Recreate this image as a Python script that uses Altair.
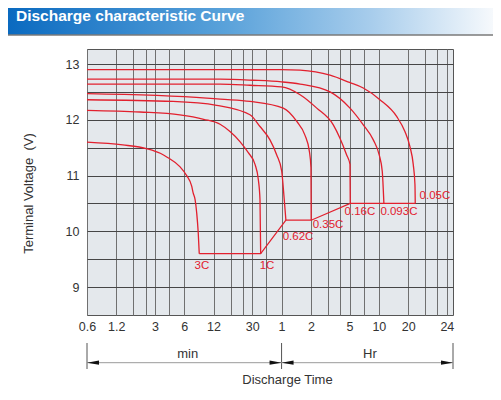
import altair as alt
import pandas as pd

RED = "#e2202e"
FONT = "Liberation Sans"
TEXT_GREY = "#333333"

# discharge time in minutes, terminal voltage in volts
T_3C = [0.6, 1.4, 2.5, 3.4, 4.0, 5.4, 6.35, 7.15, 7.4, 7.75, 8.05, 8.35, 8.55]
V_3C = [11.60, 11.55, 11.48, 11.40, 11.33, 11.16, 11.0, 10.81, 10.69, 10.57, 10.33, 9.97, 9.60]

T_1C = [0.6, 2.1, 5.4, 9.5, 14, 17.7, 22.4, 27.3, 32, 34.6, 36, 36.6]
V_1C = [12.17, 12.14, 12.09, 12.01, 11.92, 11.79, 11.61, 11.41, 11.20, 10.93, 10.57, 9.60]

T_062C = [0.6, 4.6, 12.9, 28.4, 36, 45.6, 53.5, 60.2, 62.5, 66.5]
V_062C = [12.36, 12.33, 12.26, 12.09, 11.88, 11.64, 11.37, 11.08, 10.78, 10.20]

T_035C = [0.6, 10.2, 14, 28.4, 62.5, 86, 104, 116, 120.3, 121]
V_035C = [12.47, 12.39, 12.37, 12.33, 12.21, 11.97, 11.73, 11.43, 11.14, 10.20]

T_016C = [0.6, 14, 28.4, 60, 93, 138, 204, 239, 280, 303, 305]
V_016C = [12.64, 12.64, 12.62, 12.59, 12.45, 12.21, 11.91, 11.67, 11.37, 11.20, 10.50]

T_0093C = [0.6, 14, 30.5, 60, 93, 189, 303, 415, 526, 605, 650, 676]
V_0093C = [12.73, 12.73, 12.71, 12.68, 12.64, 12.50, 12.21, 11.91, 11.64, 11.37, 11.08, 10.50]

T_005C = [0.6, 60, 93, 189, 300, 415, 615, 914, 1112, 1252, 1354, 1410, 1420]
V_005C = [12.90, 12.90, 12.89, 12.80, 12.67, 12.57, 12.36, 12.06, 11.79, 11.52, 11.20, 10.84, 10.50]

# end-of-discharge voltage line
CUT_T = [8.55, 36.6, 66.5, 121, 305, 1420]
CUT_V = [9.6, 9.6, 10.2, 10.2, 10.5, 10.5]

LABEL_TEXT = ["3C", "1C", "0.62C", "0.35C", "0.16C", "0.093C", "0.05C"]
LABEL_T = [9.1, 42.5, 88.5, 180, 383, 965, 2264]
LABEL_V = [9.37, 9.37, 9.89, 10.12, 10.34, 10.34, 10.63]

X_MIN = 0.6
X_MAX = 3470
GRID_X = [0.6, 1.2, 1.8, 2.4, 3, 4.2, 6, 12, 18, 24, 30, 42, 60,
          120, 180, 240, 300, 420, 600, 1200, 1800, 2400, 3000]
TICK_VALUES = [0.6, 1.2, 3, 6, 12, 30, 60, 120, 300, 600, 1200, 3000]
TICK_TEXT = ["0.6", "1.2", "3", "6", "12", "30", "1", "2", "5", "10", "20", "24"]
GRID_Y = [9, 9.5, 10, 10.5, 11, 11.5, 12, 12.5, 13]

SPAN_T = [0.6, 60, X_MAX]
SPAN_TEXT = ["min", "Hr"]
SPAN_TEXT_T = [6.5, 486]
ARROW_T = [0.6, 60, 60, X_MAX]
ARROW_DIR = ["left", "right", "left", "right"]

curves = [
    ("3C", T_3C, V_3C), ("1C", T_1C, V_1C), ("0.62C", T_062C, V_062C),
    ("0.35C", T_035C, V_035C), ("0.16C", T_016C, V_016C),
    ("0.093C", T_0093C, V_0093C), ("0.05C", T_005C, V_005C),
]
rows = []
for name, ts, vs in curves:
    for i, (t, v) in enumerate(zip(ts, vs)):
        rows.append({"curve": name, "i": i, "t": t, "v": v})
curve_df = pd.DataFrame(rows)
cut_df = pd.DataFrame({"t": CUT_T, "v": CUT_V, "i": range(len(CUT_T))})
label_df = pd.DataFrame({"t": LABEL_T, "v": LABEL_V, "text": LABEL_TEXT})
one_row = pd.DataFrame({"a": [0]})

x_label_expr = " : ".join(
    f"datum.value == {v} ? '{t}'" for v, t in zip(TICK_VALUES, TICK_TEXT)
) + " : ''"

x_enc = alt.X(
    "t:Q",
    scale=alt.Scale(type="log", domain=[X_MIN, X_MAX], nice=False),
    axis=alt.Axis(values=GRID_X, labelExpr=x_label_expr, labelOverlap=False,
                  labelFlush=False, labelPadding=5, title="Discharge Time",
                  titleX=200, titleY=68, titleBaseline="alphabetic",
                  titleAlign="center", gridColor="#707070"),
)
y_enc = alt.Y(
    "v:Q",
    scale=alt.Scale(domain=[8.5, 13.27], zero=False, nice=False),
    axis=alt.Axis(values=GRID_Y, labelExpr="datum.value % 1 == 0 ? '' + datum.value : ''",
                  labelPadding=8, title="Terminal Voltage\u00a0\u00a0(V)",
                  titleX=-59, titleY=144, titleBaseline="middle", titleAlign="center",
                  gridColor="#464646"),
)

lines = alt.Chart(curve_df).mark_line(
    color=RED, strokeWidth=1.3, interpolate="monotone"
).encode(x=x_enc, y=y_enc, detail="curve:N", order="i:Q")

cutoff = alt.Chart(cut_df).mark_line(color=RED, strokeWidth=1.2).encode(
    x=x_enc, y=y_enc, order="i:Q"
)

labels = alt.Chart(label_df).mark_text(
    color=RED, font=FONT, fontSize=11.5, align="center", baseline="middle"
).encode(x=x_enc, y=y_enc, text="text:N")

# title banner across the top
banner_fill = alt.LinearGradient(
    gradient="linear",
    stops=[alt.GradientStop(color="#0a6ac0", offset=0),
           alt.GradientStop(color="#5aa2da", offset=0.45),
           alt.GradientStop(color="#a8cdec", offset=0.75),
           alt.GradientStop(color="#f6f9fc", offset=1)],
    x1=0, x2=1, y1=0, y2=0,
)
banner = alt.Chart(one_row).mark_rect(color=banner_fill).encode(
    x=alt.value(-79), x2=alt.value(406), y=alt.value(-41), y2=alt.value(-14)
)
banner_line = alt.Chart(one_row).mark_rule(color="#7a7a7a", strokeWidth=1.5).encode(
    x=alt.value(-79), x2=alt.value(406), y=alt.value(-14)
)
banner_text = alt.Chart(one_row).mark_text(
    text="Discharge characteristic Curve", color="white", font=FONT,
    fontSize=15.5, fontWeight="bold", align="left", baseline="alphabetic"
).encode(x=alt.value(-71), y=alt.value(-28))

# min / Hr dimension markers below the axis
span_df = pd.DataFrame({"t": SPAN_T})
span_ticks = alt.Chart(span_df).mark_rule(color="#555555", strokeWidth=1).encode(
    x=x_enc, y=alt.value(294), y2=alt.value(320)
)
span_line = alt.Chart(pd.DataFrame({"t": [X_MIN], "t2": [X_MAX]})).mark_rule(
    color="#9a9a9a", strokeWidth=1
).encode(x=x_enc, x2="t2:Q", y=alt.value(313.7))
arrow_df = pd.DataFrame({"t": ARROW_T, "dir": ARROW_DIR})
arrows = alt.Chart(arrow_df).mark_point(filled=True, opacity=1, color="#111111").encode(
    x=x_enc,
    y=alt.value(313.7),
    shape=alt.Shape("dir:N", legend=None, scale=alt.Scale(
        domain=["left", "right"],
        range=["M0,0L2,-0.35L2,0.35Z", "M0,0L-2,-0.35L-2,0.35Z"])),
    size=alt.value(144),
)
span_text = alt.Chart(pd.DataFrame({"t": SPAN_TEXT_T, "text": SPAN_TEXT})).mark_text(
    color=TEXT_GREY, font=FONT, fontSize=13, align="center", baseline="alphabetic"
).encode(x=x_enc, y=alt.value(309), text="text:N")

chart = alt.layer(
    lines, cutoff, labels, banner, banner_line, banner_text,
    span_ticks, span_line, arrows, span_text,
).properties(
    width=366, height=266,
    autosize=alt.AutoSizeParams(type="none"),
    padding={"left": 79, "top": 41, "right": 40, "bottom": 74},
).configure_view(
    fill="#e4e8ec", stroke="#555555", strokeWidth=1
).configure_axis(
    labelFont=FONT, titleFont=FONT, labelColor=TEXT_GREY, titleColor=TEXT_GREY,
    labelFontSize=12.5, titleFontSize=13, titleFontWeight="normal",
    domain=False, ticks=False, gridOpacity=1, gridWidth=1,
)

chart.save("out.html", embed_options={"renderer": "svg", "actions": False})
